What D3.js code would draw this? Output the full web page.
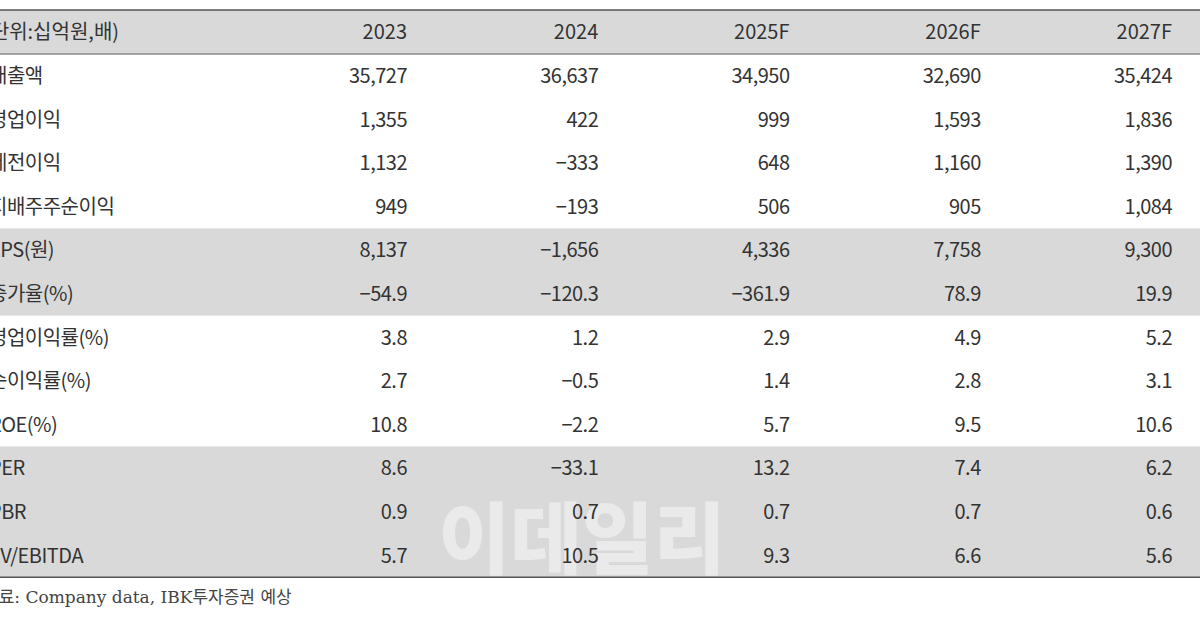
<!DOCTYPE html>
<html><head><meta charset="utf-8">
<script src="https://cdn.jsdelivr.net/npm/d3@7"></script>
<style>body{margin:0;background:#fff}svg{display:block}</style>
</head><body>
<svg id="t" width="1200" height="630"></svg>
<script>
// Table content
var headerLabel = "(단위:십억원,배)";
var years = ["2023", "2024", "2025F", "2026F", "2027F"];
var rowLabels = ["매출액", "영업이익", "세전이익", "지배주주순이익", "EPS(원)", "증가율(%)",
  "영업이익률(%)", "순이익률(%)", "ROE(%)", "PER", "PBR", "EV/EBITDA"];
var values = [
  ["35,727", "36,637", "34,950", "32,690", "35,424"],
  ["1,355", "422", "999", "1,593", "1,836"],
  ["1,132", "−333", "648", "1,160", "1,390"],
  ["949", "−193", "506", "905", "1,084"],
  ["8,137", "−1,656", "4,336", "7,758", "9,300"],
  ["−54.9", "−120.3", "−361.9", "78.9", "19.9"],
  ["3.8", "1.2", "2.9", "4.9", "5.2"],
  ["2.7", "−0.5", "1.4", "2.8", "3.1"],
  ["10.8", "−2.2", "5.7", "9.5", "10.6"],
  ["8.6", "−33.1", "13.2", "7.4", "6.2"],
  ["0.9", "0.7", "0.7", "0.7", "0.6"],
  ["5.7", "10.5", "9.3", "6.6", "5.6"]
];
var shadedGroups = [[4, 5], [9, 11]];
var sourceText = "자료: Company data, IBK투자증권 예상";

var svg = d3.select("#t");
var font = "'Noto Sans CJK KR', 'Noto Sans', sans-serif";
var topY = 10, headH = 44, rowH = 43.6;

var x = d3.scalePoint().domain(years).range([407, 1172]);
var y = d3.scaleBand().domain(d3.range(rowLabels.length))
  .range([topY + headH, topY + headH + rowH * rowLabels.length]);

// header band
svg.append("rect").attr("x", 0).attr("y", topY).attr("width", 1200).attr("height", headH).attr("fill", "#d9d9d9");
shadedGroups.forEach(function (g) {
  svg.append("rect").attr("x", 0).attr("y", y(g[0]))
    .attr("width", 1200).attr("height", y(g[1]) + y.bandwidth() - y(g[0])).attr("fill", "#d9d9d9");
});

var yBottom = y.range()[1];
[topY, topY + headH, yBottom].forEach(function (v, i) {
  svg.append("line").attr("x1", 0).attr("x2", 1200).attr("y1", v).attr("y2", v)
    .attr("stroke", i === 1 ? "#888" : "#555").attr("stroke-width", 1.5);
});

// watermark
svg.append("text").attr("x", 582).attr("y", 568).attr("text-anchor", "middle")
  .attr("font-family", font).attr("font-weight", 900).attr("font-size", 78)
  .attr("fill", "#fff").attr("opacity", 0.45).text("이데일리");

var txt = { "font-family": font, "font-size": 20, "fill": "#333" };
function styled(s) { Object.keys(txt).forEach(function (k) { s.attr(k, txt[k]); }); return s; }

styled(svg.append("text")).attr("x", -16).attr("y", topY + headH / 2).attr("dy", "0.36em").text(headerLabel);
years.forEach(function (yr) {
  styled(svg.append("text")).attr("x", x(yr)).attr("y", topY + headH / 2).attr("dy", "0.36em")
    .attr("text-anchor", "end").text(yr);
});

var rows = svg.selectAll("g.row").data(rowLabels).join("g").attr("class", "row")
  .attr("transform", function (d, i) { return "translate(0," + (y(i) + y.bandwidth() / 2) + ")"; });
styled(rows.append("text")).attr("x", -11).attr("dy", "0.36em").attr("letter-spacing", -0.5)
  .text(function (d) { return d; });
rows.each(function (d, i) {
  var g = d3.select(this);
  values[i].forEach(function (v, j) {
    styled(g.append("text")).attr("x", x(years[j])).attr("dy", "0.36em")
      .attr("text-anchor", "end").attr("letter-spacing", -0.5).text(v);
  });
});

svg.append("text").attr("x", -17).attr("y", yBottom + 26)
  .attr("font-family", "'DejaVu Serif', 'Noto Sans CJK KR', serif").attr("font-size", 17)
  .attr("fill", "#444").text(sourceText);
</script>
</body></html>
